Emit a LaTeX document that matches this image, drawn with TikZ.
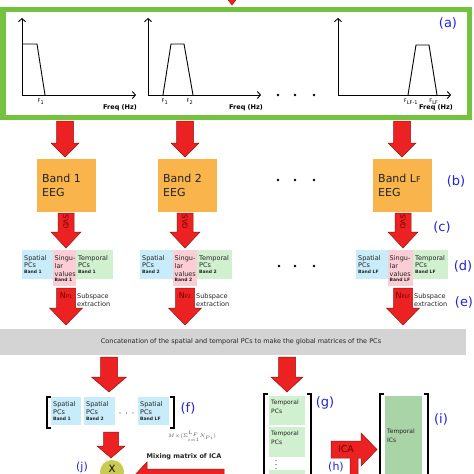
\documentclass[tikz,border=0pt]{standalone}
\usepackage{fontspec}
\setmainfont{DejaVu Sans}
\usetikzlibrary{arrows.meta}
\definecolor{frameg}{RGB}{115,195,65}
\definecolor{arrred}{RGB}{236,34,34}
\definecolor{arrdark}{RGB}{150,20,20}
\definecolor{arrtext}{RGB}{110,0,0}
\definecolor{bandorange}{RGB}{249,180,75}
\definecolor{pcblue}{RGB}{200,236,250}
\definecolor{pcpink}{RGB}{250,206,212}
\definecolor{pcgreen}{RGB}{208,240,208}
\definecolor{icgreen}{RGB}{168,212,168}
\definecolor{barg}{RGB}{212,212,212}
\definecolor{lblblue}{RGB}{35,35,215}
\definecolor{circy}{RGB}{202,202,82}
\definecolor{txtdark}{RGB}{35,35,35}
\newcommand\blkdown[6]{% cx, ytop, ytip, shaft width, head width, head length
  \filldraw[redarrow] ({#1-#4/2},#2) -- ({#1+#4/2},#2) -- ({#1+#4/2},{#3-#6}) -- ({#1+#5/2},{#3-#6}) -- (#1,#3) -- ({#1-#5/2},{#3-#6}) -- ({#1-#4/2},{#3-#6}) -- cycle;}
\begin{document}
\begin{tikzpicture}[x=1pt,y=-1pt,
  redarrow/.style={fill=arrred, draw=arrdark, line width=0.5pt},
  lbl/.style={text=lblblue, font=\fontsize{13}{13}\selectfont, inner sep=0pt},
  axisline/.style={line width=0.9pt, -{Straight Barb[length=3pt,width=7pt]}},
  sig/.style={line width=0.9pt, line join=miter},
  bandbox/.style={fill=bandorange, anchor=north west, minimum width=59pt, minimum height=53pt, inner sep=0pt},
  bandtext/.style={anchor=west, align=left, font=\fontsize{11}{14}\selectfont, text=txtdark, inner sep=0pt},
  flabel/.style={font=\fontsize{5}{6}\selectfont, inner sep=0pt},
  freq/.style={font=\bfseries\fontsize{6.5}{7}\selectfont, inner sep=0pt},
  pcbox/.style={anchor=north west, inner sep=0pt, minimum width=#1},
  pctext/.style={anchor=west, align=left, font=\fontsize{6.5}{7.6}\selectfont, text=txtdark, inner sep=0pt},
  arrlabel/.style={text=arrtext, inner sep=0pt},
  subtext/.style={anchor=west, align=left, font=\fontsize{6.5}{8}\selectfont, text=txtdark, inner sep=0pt},
  dotc/.style={fill=black},
  brk/.style={line width=1.1pt}
]
\newcommand\bandsmall{\bfseries\fontsize{4.5}{5}\selectfont}
\useasboundingbox (0,0) rectangle (474,474);
\fill[white] (0,0) rectangle (474,474);

% top incoming arrow (cut)
\blkdown{232}{-30}{5}{14}{22}{14}

% ---------- (a) green frame with filter plots ----------
\draw[frameg, line width=5.5pt] (3.2,9.7) rectangle (469.5,117.5);
% plot 1
\draw[axisline] (22,95) -- (22,18);
\draw[axisline] (22,95) -- (136,95);
\draw[sig] (22,44) -- (37,44) -- (45,95);
\node[flabel] (f1a) at (41,101.5) {F\textsubscript{1}};
\node[freq] (fq1) at (120,108) {Freq (Hz)};
% plot 2
\draw[axisline] (148,95) -- (148,18);
\draw[axisline] (148,95) -- (261,95);
\draw[sig] (163,95) -- (171,44) -- (184,44) -- (193,95);
\node[flabel] (f1b) at (165,101.5) {F\textsubscript{1}};
\node[flabel] (f2b) at (190,101.5) {F\textsubscript{2}};
\node[freq] (fq2) at (246,108) {Freq (Hz)};
% dots
\foreach \x in {278,295,314} \fill[dotc] (\x,95) circle (1.3);
% plot 3
\draw[axisline] (338,95) -- (338,18);
\draw[axisline] (338,95) -- (451,95);
\draw[sig] (408,95) -- (416,45) -- (429,45) -- (437,95);
\node[flabel] (fl1) at (411,101.5) {F\textsubscript{LF-1}};
\node[flabel] (fl) at (434,101.5) {F\textsubscript{LF}};
\node[freq] (fq3) at (436,108) {Freq (Hz)};
\node[lbl] (la) at (448,23) {(a)};

% ---------- arrows to bands ----------
\blkdown{65}{121}{157}{17}{28}{14}
\blkdown{185}{121}{157}{17}{28}{14}
\blkdown{402}{121}{157}{17}{28}{14}

% ---------- (b) band boxes ----------
\node[bandbox] (b1) at (37,159) {};
\node[bandtext] (b1t) at ([xshift=5pt]b1.west) {Band 1\\EEG};
\node[bandbox] (b2) at (158,159) {};
\node[bandtext] (b2t) at ([xshift=5pt]b2.west) {Band 2\\EEG};
\node[bandbox] (bl) at (373,159) {};
\node[bandtext] (blt) at ([xshift=5pt]bl.west) {Band L{\fontsize{8}{8}\selectfont F}\\EEG};
\foreach \x in {278,295,314} \fill[dotc] (\x,180) circle (1.3);
\node[lbl] (lb) at (456,181) {(b)};

% ---------- (c) SVD arrows ----------
\foreach \cx/\nm in {66/s1,185/s2,403/sl}{
  \blkdown{\cx}{213}{248}{16}{30}{16}
  \node[arrlabel, rotate=-90, font=\fontsize{7}{7}\selectfont] (\nm) at (\cx,222) {SVD};
}
\node[lbl] (lc) at (442,227) {(c)};

% ---------- (d) PC boxes ----------
\foreach \xa/\xb/\xc/\xd/\bn/\nm in {22/53/76/113/1/p1, 140/173/197/232/2/p2, 356/388/413/448/LF/pl}{
  \node[pcbox=\xb-\xa, minimum height=29pt, fill=pcblue] (\nm s) at (\xa,250) {};
  \node[pcbox=\xc-\xb, minimum height=36pt, fill=pcpink] (\nm v) at (\xb,250) {};
  \node[pcbox=\xd-\xc, minimum height=29pt, fill=pcgreen] (\nm t) at (\xc,250) {};
  \node[pctext] at ([xshift=2pt]\nm s.west) {Spatial\\PCs\\[-1.5pt]{\bandsmall Band \bn}};
  \node[pctext] at ([xshift=1.5pt,yshift=-0.5pt]\nm v.west) {Singu-\\lar\\values\\[-2.5pt]{\bandsmall Band \bn}};
  \node[pctext] at ([xshift=2pt]\nm t.west) {Temporal\\PCs\\[-1.5pt]{\bandsmall Band \bn}};
}
\foreach \x in {279,295,314} \fill[dotc] (\x,266) circle (1.3);
\node[lbl] (ld) at (463,266) {(d)};

% ---------- (e) subspace extraction ----------
\foreach \cx/\sub/\nm in {66/P1/n1,185/P2/n2,403/PLF/nl}{
  \blkdown{\cx}{288}{325}{19}{33}{17}
  \node[arrlabel, font=\fontsize{8}{8}\selectfont] (\nm) at (\cx,296) {N{\fontsize{5}{5}\selectfont\sub}};
  \node[subtext] at (\cx+11,300) {Subspace\\extraction};
}
\node[lbl] (le) at (464,302) {(e)};

% ---------- concatenation bar ----------
\node[fill=barg, anchor=north west, minimum width=466pt, minimum height=26pt, inner sep=0pt] (bar) at (0,329) {};
\node[font=\fontsize{6.5}{7}\selectfont, text=txtdark, inner sep=0pt] (bart) at (241,342) {Concatenation of the spatial and temporal PCs to make the global matrices of the PCs};

% ---------- arrows from bar ----------
\blkdown{109}{357}{392}{17}{35}{15}
\blkdown{287}{357}{392}{17}{32}{15}

% ---------- (f) spatial matrix ----------
\draw[brk] (51,397) -- (47,397) -- (47,428) -- (51,428);
\draw[brk] (170,397) -- (174,397) -- (174,428) -- (170,428);
\foreach \xa/\xb/\bn/\nm in {51/81/1/fs1, 84/115/2/fs2, 138/169/LF/fsl}{
  \node[pcbox=\xb-\xa, minimum height=28pt, fill=pcblue] (\nm) at (\xa,397) {};
  \node[pctext] at ([xshift=2pt]\nm.west) {Spatial\\PCs\\[-1.5pt]{\bandsmall Band \bn}};
}
\foreach \x in {120,126.5,133} \fill[black!70] (\x,413) circle (0.6);
\node[lbl] (lf) at (188,408) {(f)};
\node[font=\fontsize{5}{6}\selectfont, text=black!70, inner sep=0pt] (dim) at (192,436) {$M{\times}(\Sigma_{i=1}^{L_F}N_{Pi})$};

% ---------- arrow to multiplication ----------
\blkdown{111}{432}{458}{15}{28}{12}
\node[circle, fill=circy, minimum size=24pt, inner sep=0pt] (mult) at (112,472) {};
\node[font=\fontsize{10}{10}\selectfont, inner sep=0pt] (multx) at (112,468.5) {X};
\node[lbl, font=\fontsize{11}{11}\selectfont] (lj) at (82,467) {(j)};

% mixing matrix arrow
\filldraw[redarrow] (132,478) -- (147,462) -- (147,469) -- (224,469) -- (224,492) -- (147,492) -- (147,494) -- cycle;
\node[font=\bfseries\fontsize{6.5}{7}\selectfont, text=txtdark, inner sep=0pt] (mix) at (184,457) {Mixing matrix of ICA};

% ---------- (g) temporal PCs column ----------
\draw[brk] (268,394) -- (264,394) -- (264,480);
\draw[brk] (307,394) -- (311,394) -- (311,480);
\node[pcbox=36pt, minimum height=29pt, fill=pcgreen] (g1) at (269,396) {};
\node[pcbox=36pt, minimum height=30pt, fill=pcgreen] (g2) at (269,427) {};
\node[pcbox=36pt, minimum height=20pt, fill=pcgreen] (g3) at (269,470) {};
\node[anchor=north west, align=left, font=\fontsize{6}{9}\selectfont, text=txtdark, inner sep=0pt] at ([xshift=2pt,yshift=-4pt]g1.north west) {Temporal\\PCs};
\node[anchor=north west, align=left, font=\fontsize{6}{9}\selectfont, text=txtdark, inner sep=0pt] at ([xshift=2pt,yshift=-4pt]g2.north west) {Temporal\\PCs};
\foreach \y in {460.5,464.5,468.5} \fill[black!70] (276,\y) circle (0.6);
\node[lbl] (lg) at (325,403) {(g)};

% ---------- ICA arrow (h) ----------
\filldraw[redarrow] (331,441) -- (361,441) -- (361,433) -- (377,449.5) -- (361,466) -- (361,458) -- (358,458) -- (358,490) -- (350,490) -- (350,458) -- (331,458) -- cycle;
\node[arrlabel, font=\fontsize{9.5}{9.5}\selectfont] (ica) at (346,449.5) {ICA};
\node[lbl, font=\fontsize{11}{11}\selectfont] (lh) at (336,467) {(h)};

% ---------- (i) temporal ICs ----------
\draw[brk] (384,394) -- (380,394) -- (380,480);
\draw[brk] (424,394) -- (428,394) -- (428,480);
\node[pcbox=37pt, minimum height=90pt, fill=icgreen] (ic) at (385,396) {};
\node[anchor=north west, align=left, font=\fontsize{6}{9}\selectfont, text=txtdark, inner sep=0pt] at (387,429) {Temporal\\ICs};
\node[lbl] (li) at (441,419) {(i)};
\end{tikzpicture}
\end{document}
